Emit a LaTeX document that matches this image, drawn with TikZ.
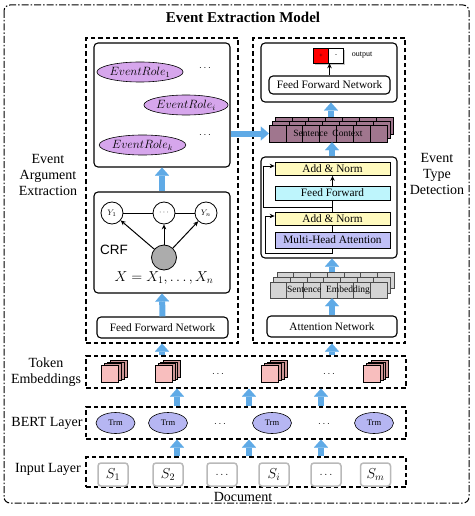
\documentclass[tikz,border=0pt]{standalone}
\usepackage{fontspec}
\setmainfont{Liberation Serif}
\newfontfamily\crfsans{Liberation Sans}
\usetikzlibrary{arrows.meta,shapes.geometric,calc}
\definecolor{arrowblue}{RGB}{95,170,230}
\definecolor{rolefill}{RGB}{214,166,236}
\definecolor{trmfill}{RGB}{182,182,242}
\definecolor{cubefill}{RGB}{248,190,190}
\definecolor{cubeback}{RGB}{205,150,150}
\definecolor{ctxfill}{RGB}{160,118,142}
\definecolor{embfill}{RGB}{212,212,212}
\definecolor{anfill}{RGB}{255,250,190}
\definecolor{fffill}{RGB}{190,245,252}
\definecolor{mhafill}{RGB}{192,192,246}
\tikzset{
  dbox/.style={draw, line width=1.1pt, dash pattern=on 4.5pt off 3pt, inner sep=0pt},
  sbox/.style={draw, line width=1.1pt, rounded corners=4pt, inner sep=0pt},
  lbl/.style={font=\fontsize{14}{16}\selectfont, align=center},
  txt/.style={font=\fontsize{11.3}{13}\selectfont},
  barrow/.style={draw=arrowblue, line width=6pt, -{Triangle[width=14pt,length=8pt,line width=0.1pt]}},
  karrow/.style={line width=1pt, -{Stealth[length=5pt,width=4.5pt]}},
  role/.style={ellipse, draw, line width=0.6pt, fill=rolefill, minimum width=75pt, minimum height=20pt, inner sep=0pt, font=\fontsize{11.5}{13}\selectfont},
  circ/.style={circle, draw, line width=0.8pt, fill=white, minimum size=22pt, inner sep=0pt, font=\fontsize{8.5}{9}\selectfont},
  tblock/.style={draw, line width=0.8pt, minimum width=115pt, minimum height=13pt, inner sep=0pt, txt},
  trm/.style={ellipse, draw, line width=0.6pt, fill=trmfill, minimum width=39pt, minimum height=21pt, inner sep=0pt, font=\fontsize{8.5}{9}\selectfont},
  sbx/.style={draw=gray!55, line width=1.5pt, rounded corners=3pt, fill=white, minimum width=30pt, minimum height=23pt, inner sep=0pt, font=\fontsize{14}{16}\selectfont},
  sq/.style={draw, line width=0.6pt, minimum size=15pt, inner sep=0pt, font=\fontsize{6}{7}\selectfont},
}
\begin{document}
\begin{tikzpicture}[x=1pt,y=-1pt]
\useasboundingbox (0,0) rectangle (474,516);
% outer frame
\draw[line width=1pt, dash pattern=on 7pt off 2pt on 1.5pt off 2pt, rounded corners=6pt] (4,5) rectangle (469,503);
\node[font=\bfseries\fontsize{15}{17}\selectfont] (title) at (243,17) {Event Extraction Model};

% panels
\node[dbox, minimum width=152pt, minimum height=305pt] (eae) at (162,190.5) {};
\node[dbox, minimum width=152pt, minimum height=305pt] (etd) at (329,190.5) {};

% ---- left panel
\node[sbox, minimum width=136pt, minimum height=124pt] (roles) at (162,105) {};
\node[role] (r1) at (140,72) {$EventRole_1$};
\node[role] (ri) at (186,105) {$EventRole_i$};
\node[role] (rk) at (142.5,145) {$EventRole_k$};
\node (rd1) at (205,68) {$\cdots$};
\node (rd2) at (205,135) {$\cdots$};

\node[sbox, minimum width=136pt, minimum height=101pt] (crf) at (162,242.5) {};
\node[circ] (y1) at (112,213) {$Y_1$};
\node[circ] (ym) at (164,213) {$\cdots$};
\node[circ] (yn) at (206,213) {$Y_n$};
\node[circle, draw, line width=0.8pt, fill=gray!65, minimum size=25pt, inner sep=0pt] (xg) at (164,257.5) {};
\draw[line width=1pt] (y1) -- (ym) -- (yn);
\draw[karrow] (xg) -- (y1);
\draw[karrow] (xg) -- (ym);
\draw[karrow] (xg) -- (yn);
\node[font=\crfsans\fontsize{13.5}{15}\selectfont] (crft) at (114,250) {CRF};
\node[font=\fontsize{14}{16}\selectfont] (xeq) at (164,278) {$X = X_1,\ldots,X_n$};

\node[sbox, minimum width=131pt, minimum height=21pt, txt] (ffnl) at (162.5,327.5) {Feed Forward Network};

% ---- right panel
\node[sbox, minimum width=136pt, minimum height=59pt] (outbox) at (329,72.5) {};
\node[sbox, minimum width=121pt, minimum height=18pt, txt] (ffnr) at (329.5,85) {Feed Forward Network};
\fill[gray!45] (315,50) rectangle (345,65);
\node[sq, fill=red] (plus) at (321,55.5) {+};
\node[sq, fill=white] (minus) at (336,55.5) {-};
\node[font=\fontsize{8}{9}\selectfont] (outl) at (362,55) {output};
\draw[karrow] (ffnr.north) -- (ffnr.north |- plus.south);

% sentence context stack
\foreach \dx/\dy in {6/8,3/4,0/0}{
  \foreach \i in {0,...,6}{
    \draw[fill=ctxfill, line width=0.6pt] (269+\i*16.86+\dx,125-\dy) rectangle ++(16.86,17);
  }
}
\node[font=\fontsize{9.5}{10}\selectfont, minimum width=118pt, minimum height=17pt, inner sep=0pt] (sc) at (328,133.5) {Sentence\ \ Context};

% transformer
\node[sbox, minimum width=136pt, minimum height=101pt] (trans) at (329,207.5) {};
\node[tblock, fill=anfill] (an1) at (332.5,169) {Add \& Norm};
\node[tblock, fill=fffill, minimum height=14pt] (ff) at (332.5,193) {Feed Forward};
\node[tblock, fill=anfill] (an2) at (332.5,219) {Add \& Norm};
\node[tblock, fill=mhafill, minimum height=16pt] (mha) at (332.5,240) {Multi-Head Attention};
\draw[karrow] (ff) -- (an1);
\draw[line width=0.8pt] (an2.north) -- (ff.south);
\draw[line width=0.8pt] (mha.north) -- (an2.south);
\coordinate (j1) at (332.5,207);
\coordinate (j2) at (332.5,253);
\draw[line width=0.8pt] (j2) -- (mha.south);
\draw[karrow, line width=0.8pt] (j1) -- (263,207) -- (263,166) -- ($(an1.west)+(0,-3)$);
\draw[karrow, line width=0.8pt] (j2) -- (265,253) -- (265,216) -- ($(an2.west)+(0,-3)$);

% sentence embedding stack
\foreach \dx/\dy in {7/10,3.5/5,0/0}{
  \foreach \i in {0,...,6}{
    \draw[fill=embfill, draw=black!70, line width=0.6pt] (270+\i*16.7+\dx,282-\dy) rectangle ++(16.7,16);
  }
}
\node[font=\fontsize{9.5}{10}\selectfont, minimum width=117pt, minimum height=16pt, inner sep=0pt] (se) at (328.5,290) {Sentence\ \ Embedding};

\node[sbox, minimum width=130pt, minimum height=21pt, txt] (attn) at (332,326.5) {Attention Network};

% blue arrows inside panels
\coordinate (setop) at (332,272);
\coordinate (sctop) at (331,117);
\draw[barrow] (crf.north) -- (roles.south);
\draw[barrow] (ffnl.north) -- (crf.south);
\draw[barrow] (roles.east |- sc.west) -- (sc.west);
\draw[barrow] (attn.north) -- (attn.north |- se.south);
\draw[barrow] (setop) -- (setop |- trans.south);
\draw[barrow] (trans.north -| setop) -- (sc.south -| setop);
\draw[barrow] (sctop) -- (sctop |- outbox.south);

% ---- bottom rows
\node[dbox, minimum width=320pt, minimum height=32pt] (tok) at (246,372) {};
\node[dbox, minimum width=320pt, minimum height=32pt] (bert) at (246,423) {};
\node[dbox, minimum width=320pt, minimum height=30pt] (inp) at (246,472) {};

\draw[barrow] (eae.south |- tok.north) -- (eae.south);
\draw[barrow] (attn.south |- tok.north) -- (attn.south |- etd.south);

% cubes
\foreach \cx/\nm in {110/c1,163.5/c2,270/c3,371.5/c4}{
  \foreach \k in {3,2,1}{
    \draw[fill=cubeback, line width=0.6pt] (\cx-8.5+\k*2.8,365.5-\k*1.8) rectangle ++(17,17);
  }
  \node[draw, line width=0.7pt, fill=cubefill, minimum size=17pt, inner sep=0pt] (\nm) at (\cx,374) {};
}
\node (cd1) at (218,374) {$\ldots$};
\node (cd2) at (329,374) {$\ldots$};

% Trm
\foreach \tx/\nm in {115.5/t1,168/t2,272/t3,374/t4}{
  \node[trm] (\nm) at (\tx,423) {Trm};
}
\node (td1) at (220,424) {$\ldots$};
\node (td2) at (324,424) {$\ldots$};

% inputs
\node[sbx] (s1) at (113,474.5) {$S_1$};
\node[sbx] (s2) at (168,474.5) {$S_2$};
\node[sbx, font=\fontsize{11}{12}\selectfont] (sd1) at (222,474.5) {$\ldots$};
\node[sbx] (si) at (274,474.5) {$S_i$};
\node[sbx, font=\fontsize{11}{12}\selectfont] (sd2) at (326,474.5) {$\ldots$};
\node[sbx] (sm) at (375.5,474.5) {$S_m$};

\foreach \x [count=\i] in {177,249,321}{
  \coordinate (ax\i) at (\x,0);
  \draw[barrow] (bert.north -| ax\i) -- (tok.south -| ax\i);
  \draw[barrow] (inp.north -| ax\i) -- (bert.south -| ax\i);
}

% labels
\node[lbl] (leae) at (48,175) {Event\\Argument\\Extraction};
\node[lbl] (letd) at (437,174) {Event\\Type\\Detection};
\node[lbl] (ltok) at (46,372.5) {Token\\Embeddings};
\node[lbl] (lbert) at (47,423) {BERT Layer};
\node[lbl] (linp) at (48,469) {Input Layer};
\node[lbl] (doc) at (243,497) {Document};
\end{tikzpicture}
\end{document}
